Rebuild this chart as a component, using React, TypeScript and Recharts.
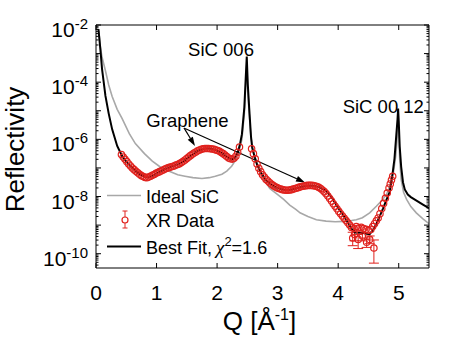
import React from 'react';
import {
  ComposedChart,
  Line,
  Scatter,
  XAxis,
  YAxis,
  ErrorBar,
  ReferenceDot,
  ReferenceLine,
  Legend,
} from 'recharts';

// ---------- layout ----------
const W = 474;
const H = 339;
const PL = 96;
const PR = 429;
const PT = 25;
const PB = 268;
const FONT = '"Liberation Sans", Arial, Helvetica, sans-serif';
const SERIF = '"Liberation Serif", "Times New Roman", serif';
const RED = '#e0221e';
const GRAY = '#a8a8a8';
const INK = '#000';

// ---------- axes ----------
const X_TICKS = [0, 1, 2, 3, 4, 5];
const X_DOMAIN = [0, 5.5];
const Y_LABEL_EXPS = [-10, -8, -6, -4, -2];
const Y_DECADES = [-10, -9, -8, -7, -6, -5, -4, -3, -2];
const Y_MIN = 10 ** -10.5;
const Y_MAX = 1e-2;

// ---------- series (Q in 1/Å, reflectivity as log10 values) ----------
const idealQ = [0.047, 0.07, 0.1, 0.156, 0.21, 0.267, 0.35, 0.43, 0.55, 0.65, 0.8, 0.93, 1.05, 1.2, 1.35, 1.47, 1.6, 1.75, 1.87, 1.97, 2.08, 2.16, 2.24, 2.29, 2.33, 2.37, 2.41, 2.45, 2.468, 2.49, 2.507, 2.53, 2.56, 2.6, 2.66, 2.75, 2.87, 2.98, 3.1, 3.2, 3.3, 3.37, 3.5, 3.64, 3.8, 3.95, 4.1, 4.22, 4.3, 4.4, 4.52, 4.63, 4.72, 4.8, 4.86, 4.91, 4.95, 4.97, 4.99, 5.0, 5.016, 5.04, 5.08, 5.13, 5.2, 5.29, 5.4, 5.5];
const idealLogR = [-2.2, -2.75, -3.13, -3.6, -4.1, -4.5, -4.95, -5.27, -5.8, -6.15, -6.5, -6.76, -6.95, -7.11, -7.24, -7.29, -7.34, -7.37, -7.34, -7.29, -7.22, -7.11, -6.94, -6.78, -6.58, -6.35, -6.0, -5.1, -4.3, -3.4, -4.3, -5.1, -5.95, -6.4, -6.85, -7.3, -7.72, -7.9, -8.1, -8.3, -8.45, -8.57, -8.7, -8.81, -8.86, -8.88, -8.87, -8.84, -8.81, -8.74, -8.57, -8.34, -8.14, -7.92, -7.6, -7.2, -6.6, -6.1, -5.4, -5.7, -6.7, -7.4, -7.85, -8.1, -8.35, -8.57, -8.78, -8.95];

const fitQ = [0.04, 0.07, 0.1, 0.156, 0.21, 0.267, 0.35, 0.43, 0.5, 0.6, 0.7, 0.8, 0.87, 0.95, 1.05, 1.15, 1.25, 1.35, 1.45, 1.55, 1.65, 1.72, 1.8, 1.88, 1.96, 2.04, 2.12, 2.19, 2.25, 2.3, 2.35, 2.38, 2.41, 2.45, 2.468, 2.49, 2.507, 2.53, 2.56, 2.58, 2.62, 2.66, 2.72, 2.8, 2.9, 3.0, 3.1, 3.2, 3.3, 3.4, 3.5, 3.6, 3.7, 3.8, 3.9, 4.0, 4.07, 4.14, 4.22, 4.28, 4.35, 4.42, 4.47, 4.52, 4.58, 4.63, 4.68, 4.74, 4.8, 4.85, 4.9, 4.93, 4.96, 4.98, 4.99, 5.0, 5.016, 5.04, 5.07, 5.1, 5.15, 5.2, 5.3, 5.4, 5.5];
const fitLogR = [-2.14, -2.8, -3.54, -4.48, -5.1, -5.65, -6.23, -6.58, -6.78, -7.0, -7.18, -7.31, -7.33, -7.25, -7.13, -7.03, -6.95, -6.88, -6.76, -6.6, -6.45, -6.37, -6.32, -6.32, -6.36, -6.43, -6.54, -6.65, -6.7, -6.62, -6.4, -6.15, -5.82, -4.88, -4.07, -3.1, -4.07, -4.9, -5.9, -6.3, -6.62, -6.88, -7.15, -7.4, -7.6, -7.7, -7.76, -7.77, -7.72, -7.66, -7.62, -7.62, -7.68, -7.8, -8.05, -8.4, -8.6, -8.85, -9.12, -9.26, -9.27, -9.28, -9.3, -9.32, -9.15, -8.96, -8.72, -8.42, -8.1, -7.85, -7.17, -6.67, -5.85, -5.3, -4.92, -5.35, -6.24, -6.95, -7.5, -7.75, -7.93, -8.02, -8.15, -8.28, -8.41];

const xrQ = [0.42, 0.45, 0.48, 0.51, 0.54, 0.57, 0.6, 0.63, 0.66, 0.69, 0.72, 0.75, 0.78, 0.81, 0.84, 0.87, 0.9, 0.93, 0.96, 0.99, 1.02, 1.05, 1.08, 1.11, 1.14, 1.17, 1.2, 1.23, 1.26, 1.29, 1.32, 1.35, 1.38, 1.41, 1.44, 1.47, 1.5, 1.53, 1.56, 1.59, 1.62, 1.65, 1.68, 1.71, 1.74, 1.77, 1.8, 1.83, 1.86, 1.89, 1.92, 1.95, 1.98, 2.01, 2.04, 2.07, 2.1, 2.13, 2.16, 2.19, 2.22, 2.25, 2.28, 2.31, 2.34, 2.37,
  2.57, 2.6, 2.63, 2.66, 2.69, 2.72, 2.75, 2.78, 2.81, 2.84, 2.87, 2.9, 2.93, 2.96, 2.99, 3.02, 3.05, 3.08, 3.11, 3.14, 3.17, 3.2, 3.23, 3.26, 3.29, 3.32, 3.35, 3.38, 3.41, 3.44, 3.47, 3.5, 3.53, 3.56, 3.59, 3.62, 3.65, 3.68, 3.71, 3.74, 3.77, 3.8, 3.83, 3.86, 3.89, 3.92, 3.95, 3.98, 4.01, 4.04, 4.07, 4.1, 4.13, 4.16, 4.19, 4.22, 4.26, 4.3, 4.34, 4.38, 4.42, 4.46, 4.5, 4.54, 4.57, 4.6, 4.63, 4.66, 4.69, 4.72, 4.75, 4.78, 4.81, 4.84, 4.86, 4.88, 4.9];
const xrLogR = [-6.53, -6.62, -6.7, -6.78, -6.86, -6.93, -7.0, -7.06, -7.12, -7.17, -7.22, -7.27, -7.3, -7.33, -7.34, -7.32, -7.29, -7.26, -7.23, -7.19, -7.16, -7.13, -7.1, -7.07, -7.04, -7.01, -6.99, -6.97, -6.95, -6.93, -6.9, -6.88, -6.85, -6.81, -6.77, -6.72, -6.67, -6.62, -6.57, -6.52, -6.48, -6.44, -6.4, -6.37, -6.35, -6.33, -6.32, -6.32, -6.32, -6.33, -6.34, -6.35, -6.37, -6.39, -6.42, -6.46, -6.5, -6.55, -6.6, -6.65, -6.68, -6.69, -6.66, -6.59, -6.45, -6.27,
  -6.33, -6.5, -6.68, -6.86, -7.01, -7.13, -7.24, -7.32, -7.4, -7.46, -7.52, -7.57, -7.62, -7.66, -7.69, -7.72, -7.74, -7.76, -7.77, -7.78, -7.78, -7.77, -7.76, -7.74, -7.72, -7.7, -7.68, -7.66, -7.64, -7.63, -7.62, -7.61, -7.61, -7.61, -7.62, -7.63, -7.65, -7.68, -7.72, -7.77, -7.83, -7.9, -7.98, -8.07, -8.16, -8.25, -8.34, -8.43, -8.52, -8.6, -8.68, -8.76, -8.84, -8.92, -9.0, -9.08, -9.12, -9.05, -9.1, -9.08, -9.12, -9.15, -9.18, -9.15, -9.05, -8.95, -8.85, -8.75, -8.6, -8.42, -8.24, -8.06, -7.88, -7.7, -7.56, -7.42, -7.29];

// low-signal points with visible error bars
const xrLowQ = [4.24, 4.27, 4.33, 4.4, 4.47, 4.52, 4.59];
const xrLowLogR = [-9.45, -9.33, -9.5, -9.38, -9.6, -9.5, -9.8];
const xrLowLogLo = [-9.72, -9.55, -9.82, -9.55, -9.78, -9.65, -10.33];
const xrLowLogHi = [-9.25, -9.18, -9.33, -9.25, -9.45, -9.38, -9.52];

// annotations (data coordinates)
const LABELS = [
  { text: 'SiC 006', q: 2.065, logR: -3.1 },
  { text: 'SiC 00 12', q: 4.745, logR: -5.08 },
  { text: 'Graphene', q: 1.511, logR: -5.56 },
];
const ARROWS = [
  { q1: 1.453, l1: -5.6, q2: 1.635, l2: -6.23 },
  { q1: 1.47, l1: -5.62, q2: 3.452, l2: -7.51 },
];

// ---------- build library tables ----------
const idealData = idealQ.map((q, i) => ({ q, r: 10 ** idealLogR[i] }));
const fitData = fitQ.map((q, i) => ({ q, r: 10 ** fitLogR[i] }));
const xrData = xrQ.map((q, i) => ({ q, r: 10 ** xrLogR[i] }));
const xrLowData = xrLowQ.map((q, i) => ({
  q,
  r: 10 ** xrLowLogR[i],
  lo: 10 ** xrLowLogLo[i],
  hi: 10 ** xrLowLogHi[i],
}));

const Y_MAJOR = Y_DECADES.map((d) => 10 ** d);
const Y_MINOR: number[] = [];
[-11, ...Y_DECADES].forEach((d) => {
  for (let m = 2; m <= 9; m++) {
    const v = m * 10 ** d;
    if (v >= Y_MIN && v <= Y_MAX) Y_MINOR.push(v);
  }
});

// ---------- renderers ----------
const renderYTick = (props: any) => {
  const { y, payload } = props;
  const exp = Math.round(Math.log10(payload.value));
  if (!Y_LABEL_EXPS.includes(exp)) return <g />;
  return (
    <text x={PL - 8} y={y + 12} textAnchor="end" fontFamily={FONT} fill="#000">
      <tspan fontSize={21}>10</tspan>
      <tspan fontSize={15} dy={-8}>{String(exp)}</tspan>
    </text>
  );
};

const renderXTick = (props: any) => {
  const { x, payload } = props;
  return (
    <text x={x} y={PB + 32} textAnchor="middle" fontFamily={FONT} fontSize={21} fill="#000">
      {payload.value}
    </text>
  );
};

const XLabel = () => (
  <text x={(PL + PR) / 2 - 3} y={330} textAnchor="middle" fontFamily={FONT} fontSize={26} fill="#000">
    <tspan>Q [Å</tspan>
    <tspan fontSize={16} dy={-10}>-1</tspan>
    <tspan dy={10}>]</tspan>
  </text>
);

const YLabel = () => (
  <text
    x={0}
    y={0}
    transform={`translate(24, ${(PT + PB) / 2 + 3}) rotate(-90)`}
    textAnchor="middle"
    fontFamily={FONT}
    fontSize={26}
    fill="#000"
  >
    Reflectivity
  </text>
);

// inward tick marks at both ends of a full-width/height reference segment
const tickShape = (len: number) => (p: any) => {
  const { x1, y1, x2, y2 } = p;
  if (Math.abs(y1 - y2) < 0.5) {
    const a = Math.min(x1, x2);
    const b = Math.max(x1, x2);
    return (
      <g>
        <line x1={a} x2={a + len} y1={y1} y2={y1} stroke={INK} strokeWidth={1} />
        <line x1={b - len} x2={b} y1={y1} y2={y1} stroke={INK} strokeWidth={1} />
      </g>
    );
  }
  const a = Math.min(y1, y2);
  const b = Math.max(y1, y2);
  return (
    <g>
      <line x1={x1} x2={x1} y1={a} y2={a + len} stroke={INK} strokeWidth={1} />
      <line x1={x1} x2={x1} y1={b - len} y2={b} stroke={INK} strokeWidth={1} />
    </g>
  );
};

const frameShape = (p: any) => (
  <line x1={p.x1} y1={p.y1} x2={p.x2} y2={p.y2} stroke={INK} strokeWidth={1} />
);

const Arrow = (p: any) => {
  const { x1, y1, x2, y2 } = p;
  const dx = x2 - x1;
  const dy = y2 - y1;
  const L = Math.hypot(dx, dy) || 1;
  const ux = dx / L;
  const uy = dy / L;
  const hl = 9;
  const hw = 3;
  const bx = x2 - ux * hl;
  const by = y2 - uy * hl;
  const nx = -uy;
  const ny = ux;
  return (
    <g>
      <line x1={x1} y1={y1} x2={bx} y2={by} stroke="#000" strokeWidth={1.2} />
      <polygon
        points={`${x2},${y2} ${bx + nx * hw},${by + ny * hw} ${bx - nx * hw},${by - ny * hw}`}
        fill="#000"
      />
    </g>
  );
};

const LegendBox = () => (
  <svg width={200} height={84} style={{ display: 'block', overflow: 'visible' }}>
    <line x1={7} x2={41} y1={15.5} y2={15.5} stroke={GRAY} strokeWidth={1.6} />
    <text x={46} y={22.5} fontFamily={FONT} fontSize={18} fill="#000">Ideal SiC</text>
    <line x1={25} x2={25} y1={31} y2={48} stroke={RED} strokeWidth={1} />
    <line x1={22.5} x2={27.5} y1={31} y2={31} stroke={RED} strokeWidth={1} />
    <line x1={22.5} x2={27.5} y1={48} y2={48} stroke={RED} strokeWidth={1} />
    <circle cx={25} cy={40} r={3} fill="#fff" stroke={RED} strokeWidth={1.2} />
    <text x={46} y={46.5} fontFamily={FONT} fontSize={18} fill="#000">XR Data</text>
    <line x1={7} x2={41} y1={66.5} y2={66.5} stroke="#000" strokeWidth={2} />
    <text x={46} y={74} fontFamily={FONT} fontSize={18} fill="#000">
      <tspan>Best Fit,</tspan>
      <tspan dx={4} fontFamily={SERIF} fontStyle="italic" fontSize={19}>χ</tspan>
      <tspan fontSize={13} dy={-8}>2</tspan>
      <tspan dy={8}>=1.6</tspan>
    </text>
  </svg>
);

const circleShape = (p: any) => (
  <circle cx={p.cx} cy={p.cy} r={3.2} fill="none" stroke={RED} strokeWidth={1.2} />
);

export default function App() {
  return (
    <div style={{ position: 'absolute', left: 0, top: 0, width: W, height: H, background: '#fff' }}>
      <ComposedChart
        width={W}
        height={H}
        margin={{ top: PT, right: W - PR, bottom: 0, left: 0 }}
      >
        <XAxis
          dataKey="q"
          type="number"
          domain={X_DOMAIN}
          ticks={X_TICKS}
          interval={0}
          allowDataOverflow
          axisLine={false}
          tickLine={false}
          tick={renderXTick}
          height={H - PB}
          label={<XLabel />}
        />
        <YAxis
          dataKey="r"
          type="number"
          scale="log"
          domain={[Y_MIN, Y_MAX]}
          ticks={Y_MAJOR}
          interval={0}
          allowDataOverflow
          axisLine={false}
          tickLine={false}
          tick={renderYTick}
          width={PL}
          label={<YLabel />}
        />
        <Line
          data={idealData}
          dataKey="r"
          type="linear"
          stroke={GRAY}
          strokeWidth={1.6}
          dot={false}
          activeDot={false}
          isAnimationActive={false}
          name="Ideal SiC"
        />
        <Scatter
          data={xrData}
          dataKey="r"
          shape={circleShape}
          isAnimationActive={false}
          name="XR Data"
        />
        <Scatter
          data={xrLowData}
          dataKey="r"
          shape={circleShape}
          isAnimationActive={false}
          legendType="none"
        >
          <ErrorBar
            dataKey={(d: any) => [d.r - d.lo, d.hi - d.r]}
            direction="y"
            width={5}
            stroke={RED}
            strokeWidth={1}
            isAnimationActive={false}
          />
        </Scatter>
        <Line
          data={fitData}
          dataKey="r"
          type="linear"
          stroke="#000"
          strokeWidth={2}
          dot={false}
          activeDot={false}
          isAnimationActive={false}
          name="Best Fit"
        />
        {/* axes box */}
        <ReferenceLine segment={[{ x: X_DOMAIN[0], y: Y_MIN }, { x: X_DOMAIN[0], y: Y_MAX }]} shape={frameShape} ifOverflow="visible" />
        <ReferenceLine segment={[{ x: X_DOMAIN[1], y: Y_MIN }, { x: X_DOMAIN[1], y: Y_MAX }]} shape={frameShape} ifOverflow="visible" />
        <ReferenceLine segment={[{ x: X_DOMAIN[0], y: Y_MIN }, { x: X_DOMAIN[1], y: Y_MIN }]} shape={frameShape} ifOverflow="visible" />
        <ReferenceLine segment={[{ x: X_DOMAIN[0], y: Y_MAX }, { x: X_DOMAIN[1], y: Y_MAX }]} shape={frameShape} ifOverflow="visible" />
        {/* inward ticks on all four sides */}
        {X_TICKS.map((t) => (
          <ReferenceLine key={`xt-${t}`} segment={[{ x: t, y: Y_MIN }, { x: t, y: Y_MAX }]} shape={tickShape(5)} ifOverflow="visible" />
        ))}
        {Y_MAJOR.map((t) => (
          <ReferenceLine key={`ytM-${t}`} segment={[{ x: X_DOMAIN[0], y: t }, { x: X_DOMAIN[1], y: t }]} shape={tickShape(5)} ifOverflow="visible" />
        ))}
        {Y_MINOR.map((t) => (
          <ReferenceLine key={`ytm-${t}`} segment={[{ x: X_DOMAIN[0], y: t }, { x: X_DOMAIN[1], y: t }]} shape={tickShape(2.5)} ifOverflow="visible" />
        ))}
        {ARROWS.map((a, i) => (
          <ReferenceLine
            key={`arrow-${i}`}
            segment={[
              { x: a.q1, y: 10 ** a.l1 },
              { x: a.q2, y: 10 ** a.l2 },
            ]}
            shape={Arrow}
            ifOverflow="visible"
          />
        ))}
        {LABELS.map((l, i) => (
          <ReferenceDot
            key={`lab-${i}`}
            x={l.q}
            y={10 ** l.logR}
            r={0}
            ifOverflow="visible"
            shape={(p: any) => (
              <text
                x={p.cx}
                y={p.cy}
                textAnchor="middle"
                fontFamily={FONT}
                fontSize={18.5}
                fill="#000"
              >
                {l.text}
              </text>
            )}
          />
        ))}
        <Legend
          layout="vertical"
          align="center"
          verticalAlign="middle"
          wrapperStyle={{ left: 100, top: 180, width: 200, height: 84 }}
          content={() => <LegendBox />}
        />
      </ComposedChart>
    </div>
  );
}
